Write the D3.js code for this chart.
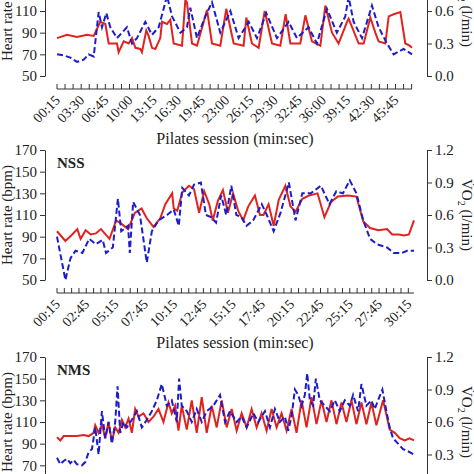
<!DOCTYPE html>
<html><head><meta charset="utf-8">
<script src="https://cdn.jsdelivr.net/npm/d3@7"></script>
<style>body{margin:0;background:#fff}svg{display:block}text{font-family:"Liberation Serif","Times New Roman",serif;fill:#222}</style>
</head><body><svg id="c" width="474" height="474"></svg>
<script>
// Panel 1 (unlabelled, top) [seconds, value]
const p1HR=[[15,85],[96,88],[176,86],[257,88],[311,87],[364,100],[405,98],[432,80],[499,80],[512,72],[553,82],[593,80],[620,85],[647,76],[687,75],[700,72],[735,92],[754,87],[781,76],[808,75],[848,85],[862,100],[902,98],[929,102],[956,80],[1023,78],[1050,120],[1063,118],[1104,80],[1144,78],[1198,100],[1225,111],[1265,80],[1332,78],[1380,112],[1440,80],[1520,78],[1542,104],[1587,80],[1641,76],[1690,110],[1749,80],[1816,78],[1859,107],[1897,80],[1977,80],[2018,106],[2071,82],[2139,78],[2179,115],[2233,90],[2286,80],[2354,100],[2367,103],[2448,80],[2488,80],[2542,104],[2582,90],[2609,82],[2663,80],[2690,105],[2730,107],[2784,109],[2824,80],[2859,78],[2878,76]];
const p1VO2=[[15,0.2],[69,0.19],[123,0.17],[176,0.13],[230,0.15],[270,0.2],[311,0.18],[351,0.59],[378,0.45],[413,0.58],[445,0.45],[499,0.35],[579,0.45],[620,0.3],[660,0.35],[727,0.5],[781,0.38],[835,0.45],[875,0.62],[902,0.74],[943,0.55],[1010,0.4],[1063,0.45],[1090,0.63],[1144,0.35],[1211,0.55],[1265,0.68],[1332,0.4],[1413,0.6],[1480,0.35],[1561,0.5],[1628,0.35],[1703,0.58],[1789,0.35],[1883,0.5],[1950,0.35],[2044,0.45],[2111,0.3],[2192,0.62],[2272,0.4],[2340,0.55],[2367,0.73],[2407,0.5],[2475,0.35],[2555,0.65],[2609,0.45],[2676,0.3],[2730,0.2],[2810,0.25],[2878,0.2]];
const p1Ticks=["00:15","03:30","06:45","10:00","13:15","16:30","19:45","23:00","26:15","29:30","32:45","36:00","39:15","42:30","45:45"];

// NSS
const nssHR=[[15,95],[58,86],[93,92],[119,97],[136,88],[162,96],[188,92],[214,93],[240,97],[284,88],[318,105],[344,102],[379,97],[414,112],[448,116],[475,107],[509,99],[544,107],[570,120],[605,130],[613,116],[631,114],[657,131],[691,137],[717,134],[743,112],[769,132],[795,120],[813,105],[839,123],[865,133],[891,112],[917,130],[943,114],[969,105],[995,118],[1029,128],[1055,110],[1073,110],[1099,120],[1125,100],[1151,124],[1185,137],[1211,118],[1237,113],[1272,125],[1306,128],[1350,130],[1385,108],[1419,122],[1454,127],[1506,128],[1549,127],[1584,104],[1619,98],[1662,96],[1706,97],[1732,92],[1766,92],[1792,91],[1818,92],[1844,105]];
const nssVO2=[[15,0.4],[58,0.0],[84,0.2],[110,0.27],[145,0.25],[180,0.38],[214,0.33],[249,0.37],[266,0.25],[301,0.3],[327,0.75],[344,0.45],[379,0.5],[388,0.25],[405,0.72],[440,0.6],[475,0.16],[501,0.45],[535,0.55],[579,0.6],[613,0.65],[639,0.5],[657,0.85],[691,0.78],[717,0.88],[752,0.9],[778,0.6],[804,0.58],[830,0.53],[856,0.78],[882,0.6],[908,0.87],[934,0.6],[960,0.58],[986,0.5],[1020,0.55],[1064,0.7],[1090,0.6],[1125,0.45],[1160,0.62],[1203,0.9],[1237,0.55],[1272,0.8],[1315,0.8],[1367,0.87],[1411,0.7],[1446,0.82],[1480,0.8],[1515,0.92],[1549,0.8],[1584,0.55],[1619,0.38],[1654,0.33],[1706,0.3],[1740,0.25],[1783,0.25],[1809,0.27],[1844,0.27]];
const nssTicks=["00:15","02:45","05:15","07:45","10:15","12:45","15:15","17:45","20:15","22:45","25:15","27:45","30:15"];

// NMS
const nmsHR=[[0,96],[20,93],[40,97],[80,97],[120,97],[160,98],[190,97],[220,100],[230,107],[250,100],[270,108],[290,95],[310,110],[330,92],[350,105],[370,100],[390,112],[410,105],[430,113],[450,100],[470,122],[490,115],[520,118],[550,110],[580,115],[610,122],[640,110],[670,128],[690,118],[710,125],[730,102],[750,125],[780,103],[810,130],[840,100],[870,133],[900,100],[930,125],[960,105],[990,130],[1020,105],[1050,122],[1080,102],[1110,118],[1140,105],[1170,122],[1200,105],[1230,118],[1260,102],[1290,122],[1320,105],[1350,118],[1380,102],[1410,122],[1440,100],[1470,130],[1500,105],[1530,133],[1560,108],[1590,130],[1620,110],[1650,130],[1680,108],[1710,128],[1740,110],[1770,130],[1800,108],[1830,128],[1860,108],[1890,128],[1920,107],[1960,130],[1980,117],[2000,103],[2030,100],[2060,95],[2090,93],[2120,95],[2146,93]];
const nmsVO2=[[0,0.27],[20,0.21],[40,0.24],[60,0.26],[80,0.22],[100,0.25],[120,0.21],[150,0.2],[170,0.23],[190,0.32],[210,0.35],[230,0.55],[250,0.3],[270,0.7],[290,0.45],[310,0.6],[330,0.4],[350,0.6],[364,0.93],[380,0.5],[400,0.6],[420,0.55],[450,0.62],[480,0.7],[510,0.55],[540,0.62],[570,0.7],[600,0.8],[630,0.95],[660,0.75],[690,0.8],[720,0.6],[734,1.0],[750,0.75],[780,0.7],[810,0.6],[840,0.72],[870,0.6],[900,0.7],[940,0.75],[980,0.85],[1010,0.6],[1040,0.7],[1080,0.6],[1110,0.65],[1140,0.55],[1180,0.68],[1210,0.6],[1250,0.7],[1280,0.55],[1310,0.72],[1340,0.6],[1370,0.65],[1390,0.52],[1410,0.65],[1430,0.9],[1450,0.85],[1470,0.75],[1490,0.85],[1504,1.05],[1520,0.8],[1540,0.75],[1556,1.0],[1580,0.8],[1610,0.75],[1640,0.7],[1670,0.8],[1700,0.7],[1730,0.8],[1760,0.75],[1780,0.85],[1810,0.7],[1830,0.95],[1860,0.75],[1890,0.8],[1910,0.72],[1930,0.8],[1956,0.9],[1980,0.7],[2000,0.55],[2020,0.45],[2050,0.4],[2080,0.35],[2110,0.33],[2146,0.3]];

const hrTicks=[50,70,90,110,130,150,170];
const voTicks=[0,0.3,0.6,0.9,1.2];

const svg=d3.select("#c");
const X0=57;
const parse=s=>{const [m,q]=s.split(":");return +m*60+ +q;};

function panel(o){
  const top=o.bottom-130;
  const x=d3.scaleLinear().domain(o.xdom).range([X0,o.xend]);
  const yL=d3.scaleLinear().domain([50,170]).range([o.bottom,top]);
  const yR=d3.scaleLinear().domain([0,1.2]).range([o.bottom,top]);
  const g=svg.append("g");
  const la=g.append("g").attr("transform","translate(45,0)").call(d3.axisLeft(yL).tickValues(hrTicks).tickSize(5).tickSizeOuter(0));
  const ra=g.append("g").attr("transform","translate(427,0)").call(d3.axisRight(yR).tickValues(voTicks).tickFormat(d3.format(".1f")).tickSize(5).tickSizeOuter(0));
  [la,ra].forEach(a=>{a.selectAll("text").style("font-size","15px").style("font-family","Liberation Serif");a.selectAll("path,line").attr("stroke","#333");});
  g.append("text").attr("transform",`translate(7,${(top+o.bottom)/2}) rotate(-90)`).attr("text-anchor","middle").attr("dy","0.35em").style("font-size","15px").text("Heart rate (bpm)");
  const rl=g.append("text").attr("transform",`translate(467,${(top+o.bottom)/2}) rotate(90)`).attr("text-anchor","middle").attr("dy","0.35em").style("font-size","15px");
  rl.append("tspan").text("V\u0307O");
  rl.append("tspan").attr("dy",4).style("font-size","10px").text("2");
  rl.append("tspan").attr("dy",-4).text(" (l/min)");
  if(o.title) g.append("text").attr("x",57).attr("y",top+18).style("font-size","15px").style("font-weight","bold").text(o.title);
  if(o.ticks){
    const ay=o.bottom+13;
    const xa=g.append("g").attr("transform",`translate(0,${ay})`);
    xa.append("line").attr("x1",X0).attr("x2",o.xend).attr("stroke","#333");
    const minor=d3.range(o.xdom[0],o.xdom[1]+1,o.minor);
    xa.selectAll(".mt").data(minor).enter().append("line").attr("x1",d=>x(d)).attr("x2",d=>x(d)).attr("y1",0).attr("y2",-5).attr("stroke","#333");
    xa.selectAll(".lb").data(o.ticks).enter().append("text")
      .attr("transform",d=>`translate(${x(parse(d))+4},${12}) rotate(-45)`)
      .attr("text-anchor","end").style("font-size","14px").text(d=>d);
    g.append("text").attr("x",235).attr("y",o.bottom+68).attr("text-anchor","middle").style("font-size","16px").text("Pilates session (min:sec)");
  }
  const c=g.append("g");
  c.append("path").datum(o.hr).attr("d",d3.line().x(d=>x(d[0])).y(d=>yL(d[1]))).attr("fill","none").attr("stroke","#e0231f").attr("stroke-width",2);
  c.append("path").datum(o.vo).attr("d",d3.line().x(d=>x(d[0])).y(d=>yR(d[1]))).attr("fill","none").attr("stroke","#1c1ccc").attr("stroke-width",2).attr("stroke-dasharray","6,3");
}
panel({bottom:76,xdom:[15,2878],xend:412,hr:p1HR,vo:p1VO2,ticks:p1Ticks,minor:65});
panel({bottom:280,xdom:[15,1844],xend:414,hr:nssHR,vo:nssVO2,ticks:nssTicks,minor:37.5,title:"NSS"});
panel({bottom:487,xdom:[0,2146],xend:414,hr:nmsHR,vo:nmsVO2,title:"NMS"});
</script></body></html>
